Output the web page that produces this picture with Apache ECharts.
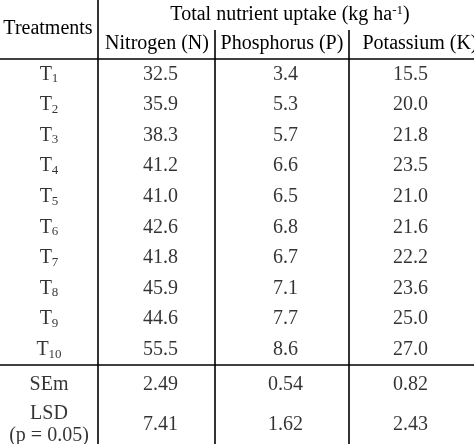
<!DOCTYPE html>
<html>
<head>
<meta charset="utf-8">
<script src="https://cdn.jsdelivr.net/npm/echarts@6/dist/echarts.min.js"></script>
<style>html,body{margin:0;padding:0;background:#fff}#main{width:474px;height:444px}</style>
</head>
<body>
<div id="main"></div>
<script>
// table values
const treatments = ['1', '2', '3', '4', '5', '6', '7', '8', '9', '10'];
const columns = ['Nitrogen (N)', 'Phosphorus (P)', 'Potassium (K)'];
const nitrogen = [32.5, 35.9, 38.3, 41.2, 41.0, 42.6, 41.8, 45.9, 44.6, 55.5];
const phosphorus = [3.4, 5.3, 5.7, 6.6, 6.5, 6.8, 6.7, 7.1, 7.7, 8.6];
const potassium = [15.5, 20.0, 21.8, 23.5, 21.0, 21.6, 22.2, 23.6, 25.0, 27.0];
const statNames = ['SEm', 'LSD\n(p = 0.05)'];
const sem = [2.49, 0.54, 0.82];
const lsd = [7.41, 1.62, 2.43];

const chart = echarts.init(document.getElementById('main'));
const FONT = 'Liberation Serif';
const INK = '#000';
const FS = 20;

const lbl = {
  show: true, position: 'inside', color: INK, fontFamily: FONT, fontSize: FS, lineHeight: 22,
  formatter: p => p.data[2],
  rich: {sub: {fontFamily: FONT, fontSize: 13, color: INK, verticalAlign: 'bottom', padding: [9, 0, 0, 0]}}
};

const bodyData = [];
[nitrogen, phosphorus, potassium].forEach((arr, c) => arr.forEach((v, r) => bodyData.push([c, r, v.toFixed(1)])));
const statData = [];
[sem, lsd].forEach((arr, r) => arr.forEach((v, c) => statData.push([c, r, v.toFixed(2)])));

const rowIdx = treatments.map((_, i) => i);
function ax(data, grid, inverse) {
  return {type: 'category', data, inverse: !!inverse, show: false, gridIndex: grid};
}
function sc(x, y, data) {
  return {type: 'scatter', xAxisIndex: x, yAxisIndex: y, symbolSize: 1,
    itemStyle: {color: 'rgba(0,0,0,0)'}, label: lbl, data, silent: true};
}

const line = (x1, y1, x2, y2) => ({type: 'line', shape: {x1, y1, x2, y2}, style: {stroke: '#000', lineWidth: 1.6}});
const txt = (x, y, text, extra) => ({type: 'text', x, y, style: Object.assign({
  text, font: FS + 'px "' + FONT + '"', fill: INK, align: 'center', verticalAlign: 'middle'}, extra || {})});

chart.setOption({
  animation: false,
  grid: [
    {left: 0, width: 98, top: 59, height: 306},
    {left: 98, width: 375, top: 59, height: 306},
    {left: 0, width: 98, top: 365, height: 79},
    {left: 98, width: 375, top: 365, height: 79}
  ],
  xAxis: [ax(['T'], 0), ax(columns, 1), ax(['T'], 2), ax(columns, 3)],
  yAxis: [ax(rowIdx, 0, true), ax(rowIdx, 1, true), ax([0, 1], 2, true), ax([0, 1], 3, true)],
  series: [
    sc(0, 0, treatments.map((t, i) => [0, i, 'T{sub|' + t + '}'])),
    sc(1, 1, bodyData),
    sc(2, 2, statNames.map((s, i) => [0, i, s])),
    sc(3, 3, statData)
  ],
  graphic: [
    line(98, 0, 98, 444),
    line(215, 30, 215, 444),
    line(349, 30, 349, 444),
    line(0, 59, 474, 59),
    line(0, 365, 474, 365),
    txt(48, 29, 'Treatments'),
    txt(290, 15, 'Total nutrient uptake (kg ha{sup|-1})', {
      rich: {sup: {fontFamily: FONT, fontSize: 13, fill: INK, verticalAlign: 'top', padding: [0, 0, 9, 0]}}}),
    ...columns.map((c, i) => txt([157, 282, 420][i], 44, c))
  ]
});
</script>
</body>
</html>
